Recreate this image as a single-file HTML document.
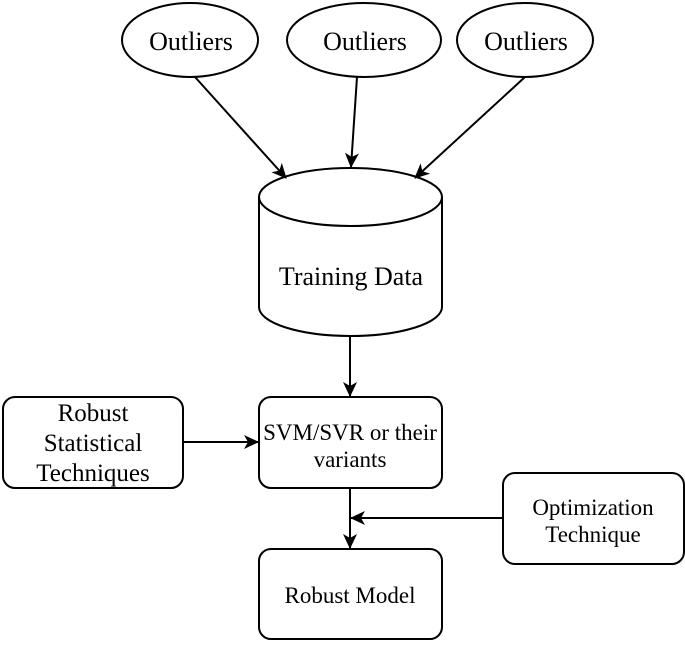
<!DOCTYPE html>
<html><head><style>body{margin:0;background:#fff}</style></head><body>
<svg width="685" height="641" viewBox="0 0 685 641" xmlns="http://www.w3.org/2000/svg" font-family="Liberation Serif, serif" fill="none" stroke="#000" stroke-width="2">
<defs><marker id="a" markerWidth="16" markerHeight="16" refX="14" refY="7" orient="auto" markerUnits="userSpaceOnUse"><path d="M0,0 L15,7 L0,14 L4,7 Z" fill="#000" stroke="none"/></marker></defs>
<ellipse cx="190" cy="40" rx="68" ry="37"/>
<ellipse cx="364" cy="40" rx="77" ry="37"/>
<ellipse cx="525" cy="40" rx="68" ry="37"/>
<g fill="#000" stroke="none" font-size="26" text-anchor="middle">
<text x="191" y="50">Outliers</text><text x="365" y="50">Outliers</text><text x="526" y="50">Outliers</text>
</g>
<line x1="195" y1="77" x2="286" y2="178" marker-end="url(#a)"/>
<line x1="357" y1="77" x2="351" y2="167" marker-end="url(#a)"/>
<line x1="525" y1="77" x2="415" y2="178" marker-end="url(#a)"/>
<path d="M259,197 A91.5,29 0 0 1 442,197 L442,307 A91.5,29 0 0 1 259,307 Z"/>
<path d="M259,197 A91.5,29 0 0 0 442,197"/>
<text x="351" y="285" fill="#000" stroke="none" font-size="26" text-anchor="middle">Training Data</text>
<line x1="350" y1="336" x2="350" y2="396" marker-end="url(#a)"/>
<rect x="259" y="397" width="183" height="91" rx="12"/>
<rect x="3" y="397" width="180" height="91" rx="12"/>
<rect x="503" y="473" width="181" height="91" rx="12"/>
<rect x="259" y="549" width="183" height="90" rx="12"/>
<line x1="183" y1="442" x2="258" y2="442" marker-end="url(#a)"/>
<line x1="350" y1="488" x2="350" y2="548" marker-end="url(#a)"/>
<line x1="503" y1="518" x2="351" y2="518" marker-end="url(#a)"/>
<g fill="#000" stroke="none" text-anchor="middle">
<text x="350" y="440" font-size="23">SVM/SVR or their</text>
<text x="350" y="467" font-size="23">variants</text>
<text x="93" y="421" font-size="25">Robust</text>
<text x="93" y="451" font-size="25">Statistical</text>
<text x="93" y="481" font-size="25">Techniques</text>
<text x="593" y="515" font-size="23">Optimization</text>
<text x="593" y="542" font-size="23">Technique</text>
<text x="350" y="603" font-size="23">Robust Model</text>
</g>
</svg>
</body></html>
